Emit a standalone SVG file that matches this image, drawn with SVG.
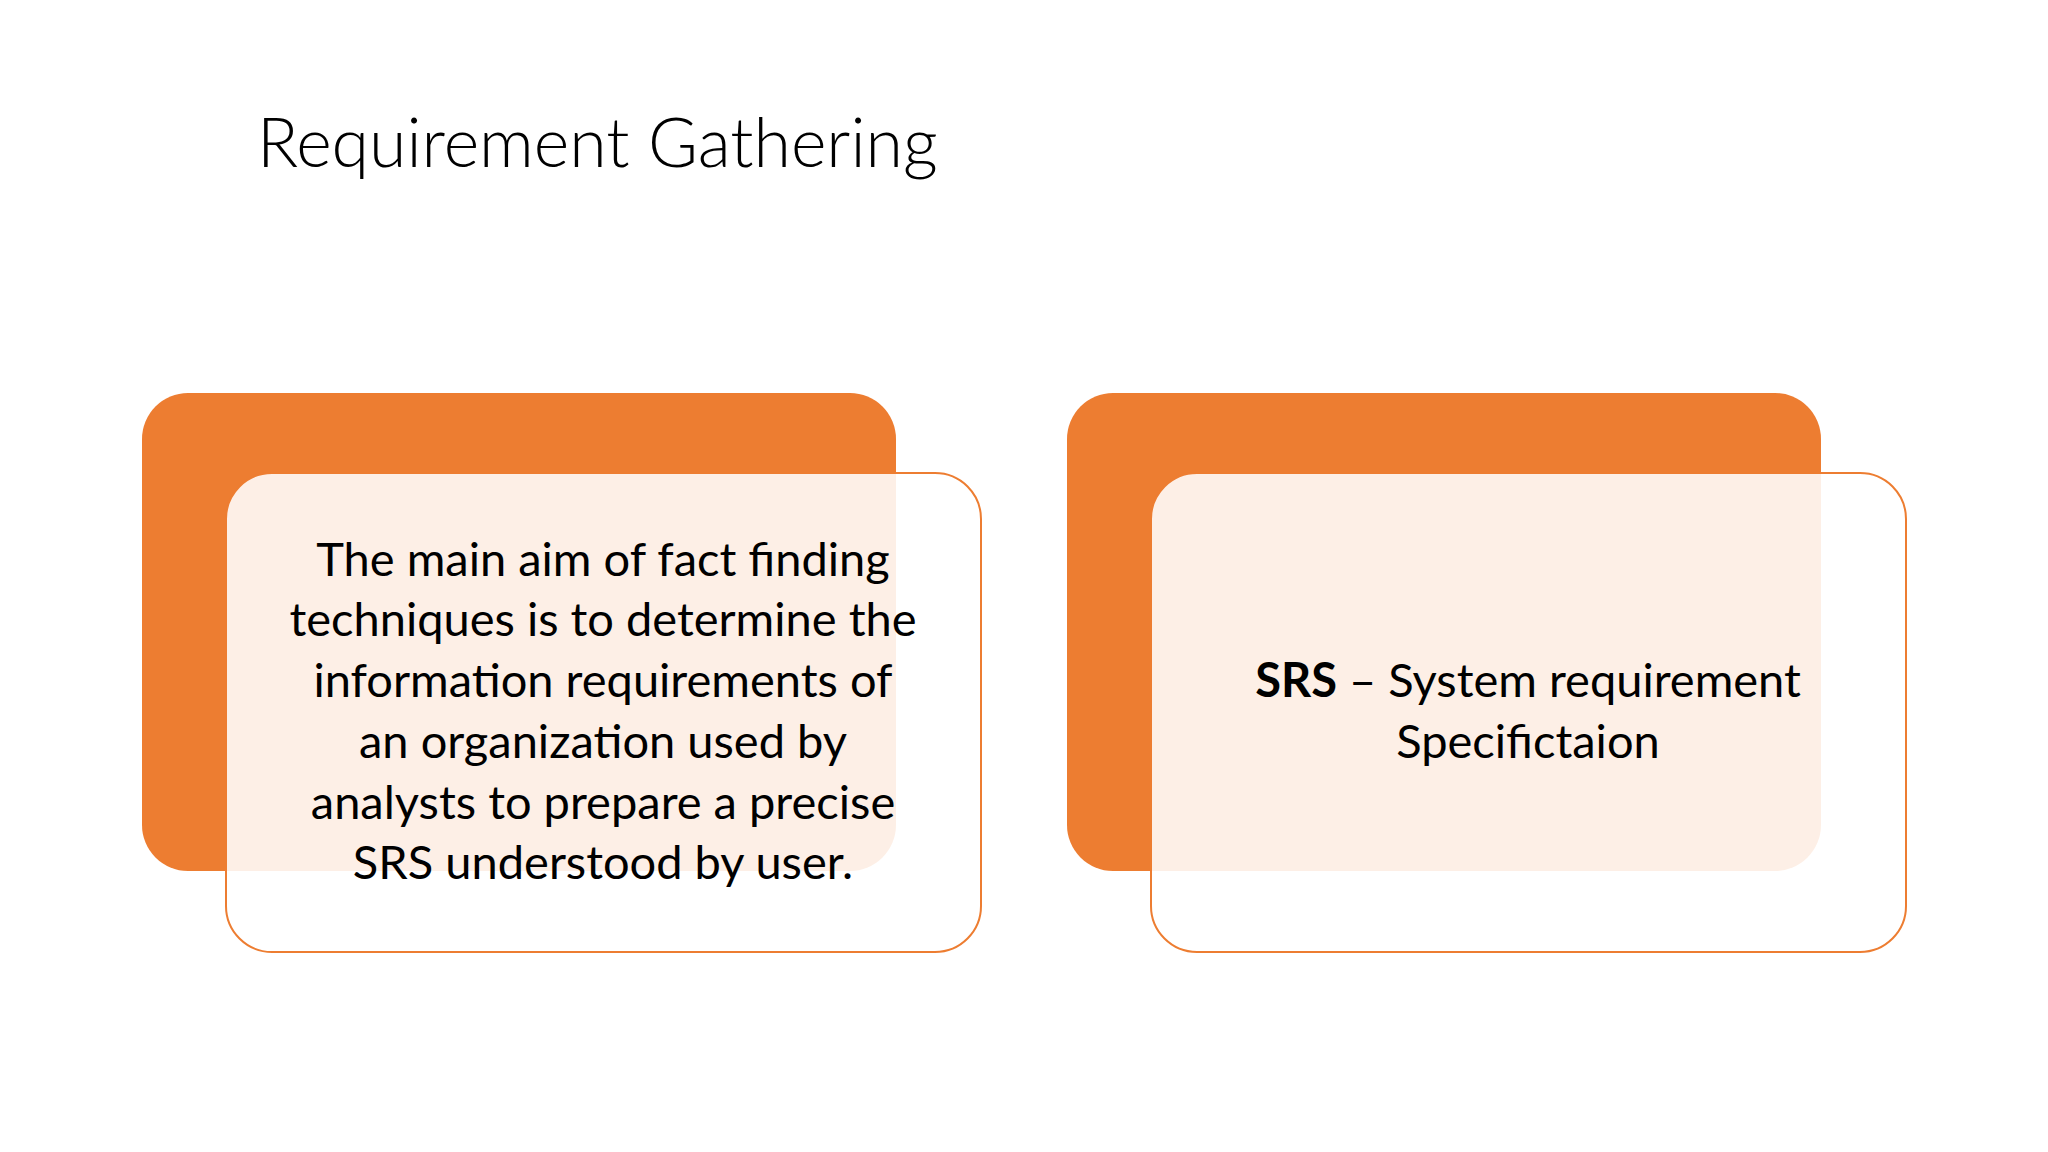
<svg xmlns="http://www.w3.org/2000/svg" width="2048" height="1152" viewBox="0 0 2048 1152">
<style>
.back{fill:#ED7D31}
.front{fill:#ffffff;fill-opacity:0.88;stroke:#ED7D31;stroke-width:2}
.t{font-family:Lato,"Open Sans",sans-serif;font-size:47px;fill:#000;text-anchor:middle}
.title{font-family:Lato,"Open Sans",sans-serif;font-weight:300;font-size:68px;fill:#000}
</style>
<rect width="2048" height="1152" fill="#fff"/>
<text class="title" x="257" y="167">Requirement Gathering</text>
<g id="node1">
<rect class="back" x="142" y="393" width="754" height="478" rx="46"/>
<rect class="front" x="226" y="473" width="755" height="479" rx="46"/>
<text class="t" x="603" y="576">The main aim of fact finding</text>
<text class="t" x="603" y="636">techniques is to determine the</text>
<text class="t" x="603" y="697">information requirements of</text>
<text class="t" x="603" y="758">an organization used by</text>
<text class="t" x="603" y="819">analysts to prepare a precise</text>
<text class="t" x="603" y="879">SRS understood by user.</text>
</g>
<g id="node2">
<rect class="back" x="1067" y="393" width="754" height="478" rx="46"/>
<rect class="front" x="1151" y="473" width="755" height="479" rx="46"/>
<text class="t" x="1528" y="697"><tspan font-weight="bold">SRS</tspan> – System requirement</text>
<text class="t" x="1528" y="758">Specifictaion</text>
</g>
<g id="connectors"/>
</svg>
